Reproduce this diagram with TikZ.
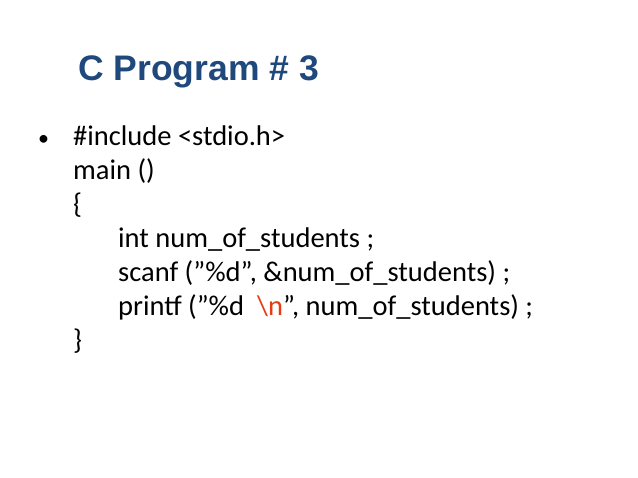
\documentclass[tikz,border=0pt]{standalone}
\usepackage{fontspec}
\setmainfont{Carlito}
\newfontfamily\titlefont{Liberation Sans}
\definecolor{titleblue}{RGB}{31,73,125}
\definecolor{esc}{RGB}{228,60,20}
\newcommand{\dq}{{\char"22}}
\begin{document}
\begin{tikzpicture}[x=1pt,y=-1pt,
  code/.style={anchor=base west,inner sep=0pt,font=\fontsize{28.5}{32}\selectfont}]
\useasboundingbox (0,0) rectangle (638,478);
\node[anchor=base west,inner sep=0pt,text=titleblue,font=\titlefont\bfseries\fontsize{35.5}{40}\selectfont] (title) at (78,81) {C Program \# 3};
\node[anchor=base west,inner sep=0pt,font=\fontsize{22}{26}\selectfont] (bul) at (38,146) {•};
\node[code] (l1) at (73,146) {\#include <stdio.h>};
\node[code] (l2) at (73,180) {main ()};
\node[code] (l3) at (73,214) {\{};
\node[code] (l4) at (118,248) {int num\_of\_students ;};
\node[code] (l5) at (118,282) {scanf (\dq\%d\dq, \&num\_of\_students) ;};
\node[code] (l6) at (118,316) {printf (\dq\%d \ \textcolor{esc}{\textbackslash n}\dq, num\_of\_students) ;};
\node[code] (l7) at (73,350) {\}};
\end{tikzpicture}
\end{document}
